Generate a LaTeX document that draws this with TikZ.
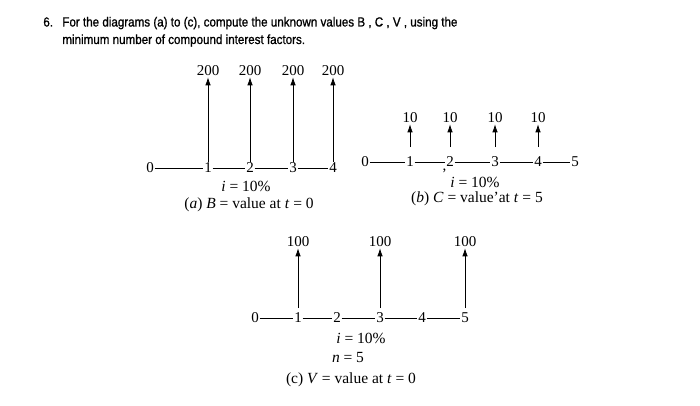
\documentclass[tikz,border=0pt]{standalone}
\usepackage{fontspec}
\setmainfont{Liberation Serif}
\newfontfamily\headfont[FakeStretch=0.88,FakeBold=1]{Liberation Sans}
\usetikzlibrary{arrows.meta}

\tikzset{
  % ----- time line and cash flows
  tick/.style = {inner sep=0.5pt, text depth=0pt, font=\fontsize{15}{15}\selectfont},
  amount/.style = {inner sep=1pt, text depth=0pt, font=\fontsize{15}{15}\selectfont},
  cashflow/.style = {->},
  caption/.style = {inner sep=0pt, font=\fontsize{15.5}{17}\selectfont},
  question/.style = {anchor=base west, inner sep=0pt, font=\headfont\fontsize{13.2}{15}\selectfont}
}

\begin{document}
\begin{tikzpicture}[
                x = 1pt, y = -1pt,
                > = {Latex[length=8pt,width=5.5pt]}, % arrow head style
                line width = 0.7pt
            ]
        \useasboundingbox (0,0) rectangle (700,406);

        % question
        \node[question] (qnum) at (43,26.5) {6.};
        \node[question] (qline1) at (62,26.5) {For the diagrams (a) to (c), compute the unknown values B , C , V , using the};
        \node[question] (qline2) at (62,44) {minimum number of compound interest factors.};

        % (a)
        \foreach \t/\x in {0/150,1/208,2/250,3/293,4/333}
            \node[tick] (a\t) at (\x,168) {\t};
        \foreach \t [evaluate = \t as \s using int(\t+1)] in {0,...,3}
            \draw (a\t) -- (a\s);
        \foreach \t in {1,...,4}{
            \node[amount] (pa\t) at (a\t |- 0,71) {200};
            \draw[cashflow] (a\t) -- (pa\t);
        }
        \node[caption] (ia) at (246,186) {\textit{i} = 10\%};
        \node[caption] (capa) at (249,205) {(\textit{a}) \textit{B} = value at \textit{t} = 0};

        % (b)
        \foreach \t/\x/\lab in {0/365/0,1/410/1,2/450/{\llap{\raisebox{-4pt}{,}}2},3/495/3,4/538/4,5/575/5}
            \node[tick] (b\t) at (\x,162) {\lab};
        \foreach \t [evaluate = \t as \s using int(\t+1)] in {0,...,4}
            \draw (b\t) -- (b\s);
        \foreach \t in {1,...,4}{
            \node[amount] (pb\t) at (b\t |- 0,118) {10};
            \draw[cashflow, shorten <= 9pt] (b\t) -- (pb\t);
        }
        \node[caption] (ib) at (475,182) {\textit{i} = 10\%};
        \node[caption] (capb) at (477,199) {(\textit{b}) \textit{C} = value'at \textit{t} = 5};

        % (c)
        \foreach \t/\x in {0/255,1/298,2/337,3/380,4/422,5/465}
            \node[tick] (c\t) at (\x,318) {\t};
        \foreach \t [evaluate = \t as \s using int(\t+1)] in {0,...,4}
            \draw (c\t) -- (c\s);
        \foreach \t in {1,3,5}{
            \node[amount] (pc\t) at (c\t |- 0,242) {100};
            \draw[cashflow, shorten <= 4pt] (c\t) -- (pc\t);
        }
        \node[caption] (ic) at (361,338) {\textit{i} = 10\%};
        \node[caption] (nc) at (348,357) {\textit{n} = 5};
        \node[caption] (capc) at (351,380) {(c) \textit{V} = value at \textit{t} = 0};
    \end{tikzpicture}
\end{document}
